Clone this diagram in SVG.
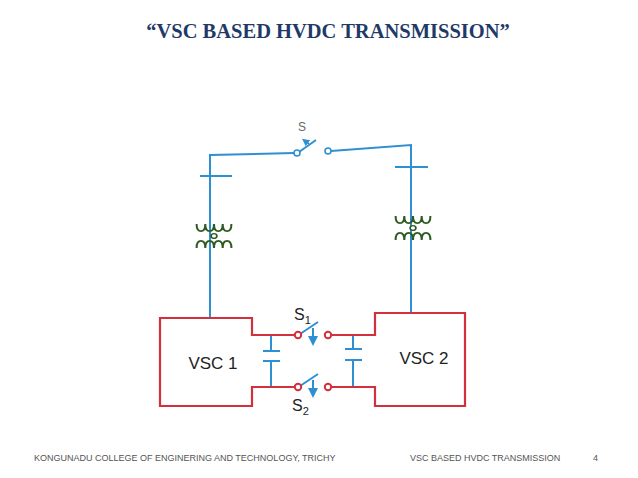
<svg xmlns="http://www.w3.org/2000/svg" width="638" height="478" viewBox="0 0 638 478">
<style>
.b{stroke:#2f8fd3;stroke-width:2;fill:none}
.r{stroke:#d2303c;stroke-width:2.2;fill:none}
.g{stroke:#2f5a22;stroke-width:1.4;fill:none}
.c{fill:#fff;stroke:#d2303c;stroke-width:2}
.t{font-family:"Liberation Sans",Arial,sans-serif;fill:#222}
.f{font-family:"Liberation Sans",Arial,sans-serif;font-size:9px;fill:#555}
</style>
<defs>
<marker id="a" markerWidth="5" markerHeight="5" refX="2.5" refY="2.5" orient="auto"><path d="M0,0L5,2.5L0,5z" fill="#2f8fd3"/></marker>
<g id="xf"><path class="g" d="M-12,-10 q0,6 3,6 q3,0 3,-6 q0,6 3,6 q3,0 3,-6 q0,6 3,6 q3,0 3,-6 q0,6 3,6 q3,0 3,-6"/><path class="g" d="M-12,10 q0,-6 3,-6 q3,0 3,6 q0,-6 3,-6 q3,0 3,6 q0,-6 3,-6 q3,0 3,6 q0,-6 3,-6 q3,0 3,6"/><circle r="2" fill="#fff" stroke="#2f5a22" stroke-width="1.2"/></g>
</defs>
<text x="328" y="38" text-anchor="middle" font-family="Liberation Serif,serif" font-weight="bold" font-size="20.5" fill="#1f3a68">“VSC BASED HVDC TRANSMISSION”</text>
<g id="connectors">
<path class="b" d="M210,318 V155 L294,153 M331,151 L411,145 V312"/>
<path class="b" d="M200,176 H232 M395,167 H428"/>
<path class="b" d="M299,152 L316,140"/>
<path class="b" d="M271,335 V351 M263,351 H280 M263,361 H280 M271,361 V387"/>
<path class="b" d="M353,335 V349 M345,349 H362 M345,360 H362 M353,360 V387"/>
<path class="b" d="M300,334 L318,322 M300,386 L318,374"/>
<path class="b" d="M313,328 V341" marker-end="url(#a)"/>
<path class="b" d="M313,380 V393" marker-end="url(#a)"/>
<path stroke="#2f8fd3" stroke-width="1.5" d="M309,144 L305,141" marker-end="url(#a)"/>
<circle cx="297" cy="153" r="3" fill="#fff" stroke="#2f8fd3" stroke-width="1.6"/>
<circle cx="328" cy="151" r="3" fill="#fff" stroke="#2f8fd3" stroke-width="1.6"/>
</g>
<g id="t1"><use href="#xf" transform="translate(214,236) scale(1.45,1.2)"/></g>
<g id="t2"><use href="#xf" transform="translate(413,228) scale(1.45,1.2)"/></g>
<g id="vsc1"><path class="r" d="M295,335 H252 V318 H160 V406 H252 V387 H295"/><text class="t" x="213" y="369" font-size="17" text-anchor="middle">VSC 1</text></g>
<g id="vsc2"><path class="r" d="M331,335 H375 V313 H465 V406 H375 V387 H331"/><text class="t" x="424" y="364" font-size="17" text-anchor="middle">VSC 2</text></g>
<g id="sw"><circle class="c" cx="298" cy="335" r="3.2"/><circle class="c" cx="328" cy="335" r="3.2"/><circle class="c" cx="298" cy="387" r="3.2"/><circle class="c" cx="328" cy="387" r="3.2"/>
<text class="t" x="294" y="320" font-size="16">S<tspan font-size="11" dy="4">1</tspan></text>
<text class="t" x="292" y="411" font-size="16">S<tspan font-size="11" dy="4">2</tspan></text>
<text x="302" y="131" font-size="12" text-anchor="middle" font-family="Liberation Sans,sans-serif" fill="#666">S</text></g>
<text class="f" x="34" y="461">KONGUNADU COLLEGE OF ENGINERING AND TECHNOLOGY, TRICHY</text>
<text class="f" x="410" y="461">VSC BASED HVDC TRANSMISSION</text>
<text class="f" x="593" y="461">4</text>
</svg>
